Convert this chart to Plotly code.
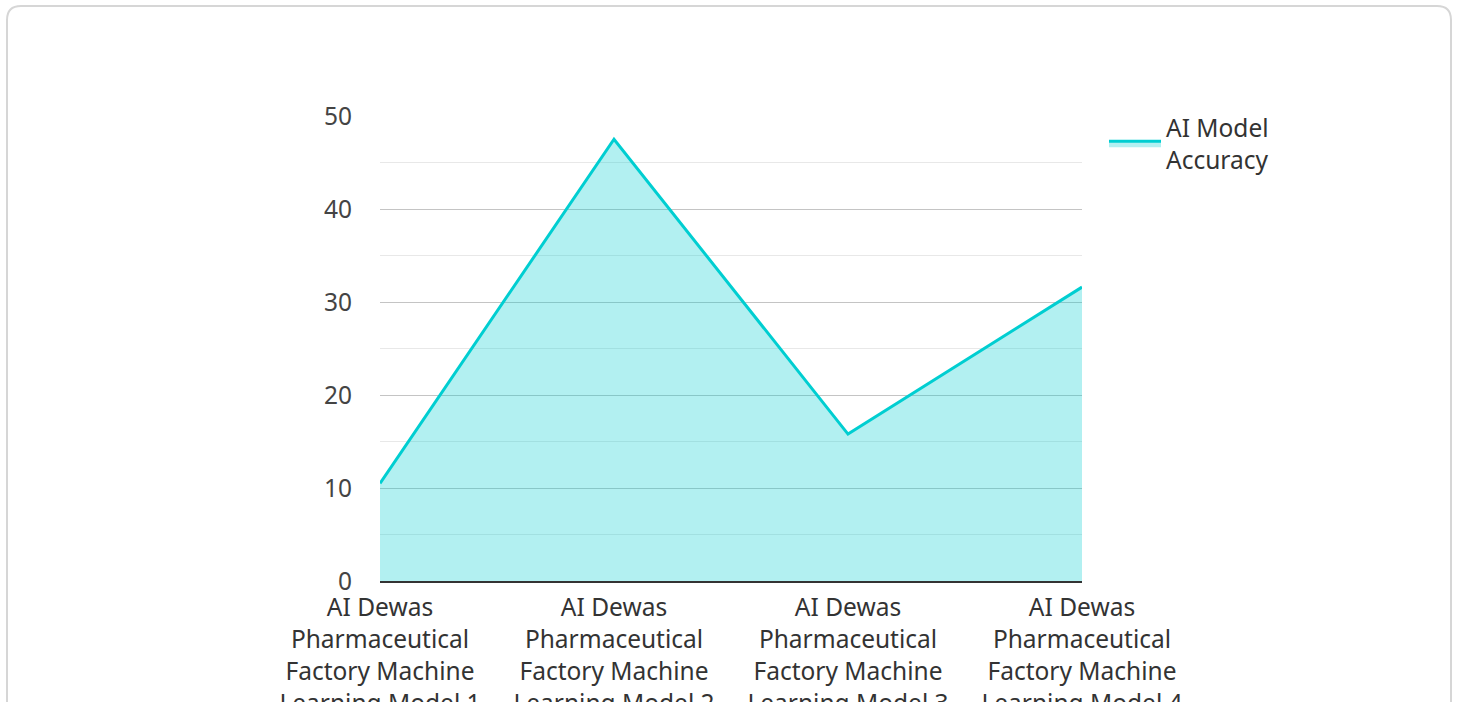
import plotly.graph_objects as go

categories = [
    "AI Dewas<br>Pharmaceutical<br>Factory Machine<br>Learning Model 1",
    "AI Dewas<br>Pharmaceutical<br>Factory Machine<br>Learning Model 2",
    "AI Dewas<br>Pharmaceutical<br>Factory Machine<br>Learning Model 3",
    "AI Dewas<br>Pharmaceutical<br>Factory Machine<br>Learning Model 4",
]
accuracy = [10.5, 47.5, 15.8, 31.6]
series_name = "AI Model<br>Accuracy"

W, H = 1458, 702
L, R, T, B = 380, 376, 116, 121
pw, ph = W - L - R, H - T - B
FS = 24.5

def px(x):
    return (x - L) / pw

def py(y):
    return (H - B - y) / ph

fig = go.Figure()
fig.add_trace(go.Scatter(
    x=categories, y=accuracy, mode="lines", name=series_name,
    line=dict(color="#00CED1", width=3),
    fill="tozeroy", fillcolor="rgba(0,206,209,0.3)",
))

# card border (rounded rectangle)
x0, x1, y0, y1, r = 7, 1451, 6, 760, 14
path = (
    f"M {px(x0+r)},{py(y0)} L {px(x1-r)},{py(y0)} "
    f"Q {px(x1)},{py(y0)} {px(x1)},{py(y0+r)} "
    f"L {px(x1)},{py(y1-r)} Q {px(x1)},{py(y1)} {px(x1-r)},{py(y1)} "
    f"L {px(x0+r)},{py(y1)} Q {px(x0)},{py(y1)} {px(x0)},{py(y1-r)} "
    f"L {px(x0)},{py(y0+r)} Q {px(x0)},{py(y0)} {px(x0+r)},{py(y0)} Z"
)

fig.update_layout(
    width=W, height=H,
    margin=dict(l=L, r=R, t=T, b=B),
    paper_bgcolor="white", plot_bgcolor="white",
    font=dict(family="Noto Sans", size=FS, color="#333333"),
    showlegend=True,
    legend=dict(x=px(1104), y=py(105), xanchor="left", yanchor="top",
                itemwidth=52,
                font=dict(size=FS, color="#333333"), bgcolor="rgba(0,0,0,0)"),
    shapes=[dict(type="path", xref="paper", yref="paper", path=path,
                 line=dict(color="#d6d6d6", width=2), fillcolor="rgba(0,0,0,0)",
                 layer="below")],
    xaxis=dict(
        range=[0, 3], showgrid=False, showline=True, linecolor="#333333", linewidth=2,
        tickfont=dict(size=FS, color="#333333"), ticks="", automargin=False,
        zeroline=False, ticklabelstandoff=4,
    ),
    yaxis=dict(
        range=[0, 50], dtick=10, showgrid=True, gridcolor="#c4c4c4", gridwidth=1,
        minor=dict(dtick=5, showgrid=True, gridcolor="#e8e8e8", gridwidth=1),
        zeroline=False, showline=False, ticks="",
        tickfont=dict(size=FS, color="#444444"), ticklabelstandoff=27,
        automargin=False,
    ),
)

fig.write_html("out.html")
